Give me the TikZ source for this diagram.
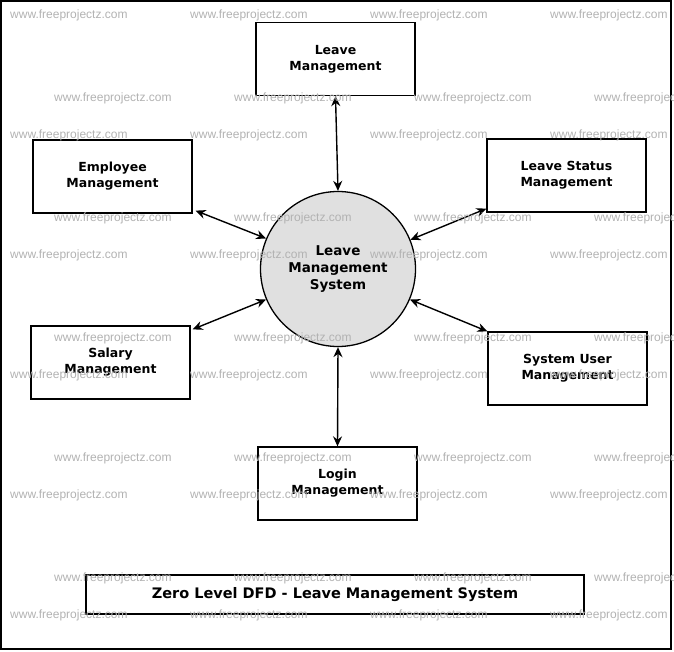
\documentclass[tikz,border=0pt]{standalone}
\usepackage{fontspec}
\setmainfont{DejaVu Sans}
\newfontfamily\wmfont{Liberation Sans}
\usetikzlibrary{arrows.meta}
\begin{document}
\begin{tikzpicture}[x=1pt,y=-1pt,
  ent/.style={draw,line width=1.3pt,fill=white,minimum width=159pt,minimum height=73pt,align=center,font=\bfseries\fontsize{12.5}{16}\selectfont},
  flow/.style={line width=1.4pt,{Stealth[length=10pt,width=9pt]}-{Stealth[length=10pt,width=9pt]}},
  wm/.style={anchor=west,text=black!30,font=\wmfont\fontsize{12}{12}\selectfont,inner sep=0pt}]
\useasboundingbox (0,0) rectangle (674,652);
\draw[line width=1.3pt] (1,1) rectangle (671,649);
\node[ent] (lm) at (335.5,59) {Leave\\Management};
\node[ent] (em) at (112.5,176.5) {Employee\\Management};
\node[ent] (ls) at (566.5,175.5) {Leave Status\\Management};
\node[ent] (sm) at (110.5,362.5) {Salary\\Management};
\node[ent] (su) at (567.5,368.5) {System User\\Management};
\node[ent] (lg) at (337.5,483.5) {Login\\Management};
\node[draw,line width=1.3pt,fill=black!12,circle,align=center,font=\bfseries\fontsize{13.5}{17}\selectfont,inner sep=0pt,minimum size=155pt] (c) at (338,269) {Leave\\Management\\System};
\node[draw,line width=1.3pt,minimum width=498pt,minimum height=39pt,font=\bfseries\fontsize{14.5}{16}\selectfont] (t) at (335,594.5) {Zero Level DFD - Leave Management System};
\draw[flow] (lm.south) -- (c.north);
\draw[flow] (em.south east) ++(3,-3) coordinate (a1) -- (c.157);
\draw[flow] (ls.south west) ++(0,-4) coordinate (a2) -- (c.22);
\draw[flow] (sm.north east) ++(2,4) coordinate (a3) -- (c.203);
\draw[flow] (su.north west) -- (c.337);
\draw[flow] (lg.north) -- (c.south);
\foreach \y/\x in {15/10,98/54,135/10,218/54,255/10,338/54,375/10,458/54,495/10,578/54,615/10}{
  \foreach \k in {0,1,2,3}{
    \node[wm] at ({\x+180*\k},\y) {www.freeprojectz.com};
  }
}
\end{tikzpicture}
\end{document}
